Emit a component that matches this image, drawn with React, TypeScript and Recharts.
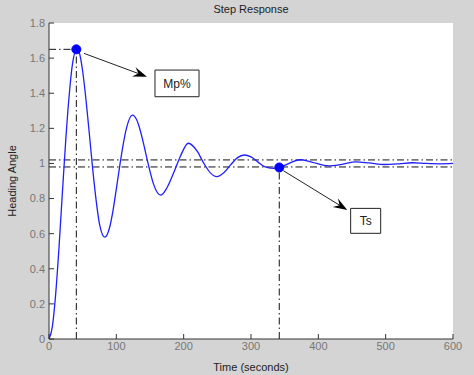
import React from 'react';
import {
  LineChart,
  Line,
  XAxis,
  YAxis,
  CartesianGrid,
  ReferenceLine,
  ReferenceDot,
  ReferenceArea
} from 'recharts';

// step response
const time = [0, 5, 10, 15, 20, 25, 30, 35, 41, 45, 50, 55, 60, 65, 70, 75, 83, 90, 95, 100, 105, 110, 115, 124, 130, 135, 140, 145, 150, 155, 166, 175, 185, 195, 207, 220, 230, 240, 249, 260, 270, 280, 290, 300, 310, 320, 333, 345, 355, 373, 390, 415, 435, 456, 475, 498, 520, 539, 560, 581, 600];
const heading = [0, 0.07, 0.26, 0.53, 0.84, 1.14, 1.39, 1.57, 1.65, 1.63, 1.525, 1.36, 1.165, 0.965, 0.79, 0.655, 0.58, 0.635, 0.73, 0.855, 0.985, 1.105, 1.2, 1.275, 1.25, 1.195, 1.12, 1.035, 0.955, 0.885, 0.82, 0.86, 0.945, 1.04, 1.115, 1.07, 1.0, 0.945, 0.925, 0.948, 0.993, 1.033, 1.048, 1.037, 1.009, 0.982, 0.972, 0.98, 0.998, 1.021, 1.008, 0.986, 0.995, 1.009, 1.003, 0.994, 0.998, 1.004, 1.0, 0.998, 1.0];

const xTicks = [0, 100, 200, 300, 400, 500, 600];
const yTicks = [0, 0.2, 0.4, 0.6, 0.8, 1, 1.2, 1.4, 1.6, 1.8];
const band = [1.02, 0.98];

const peak = { t: 40.6, y: 1.65 };
const settle = { t: 342, y: 0.977 };

const mpArrow = [{ x: 52, y: 1.627 }, { x: 145.5, y: 1.494 }];
const tsArrow = [{ x: 348, y: 0.959 }, { x: 443, y: 0.735 }];
const mpBox = { x1: 157.4, x2: 222.8, y1: 1.38, y2: 1.532, text: 'Mp%' };
const tsBox = { x1: 448, x2: 492.6, y1: 0.602, y2: 0.744, text: 'Ts' };

const data = time.map((t, i) => ({ t, y: heading[i] }));

const font = '"Liberation Sans", Arial, sans-serif';
const dashDot = '7 3 1.5 3';

const Arrow = (p: any) => {
  const { x1, y1, x2, y2 } = p;
  const a = Math.atan2(y2 - y1, x2 - x1);
  const len = 14;
  const w = 5;
  const bx = x2 - len * Math.cos(a);
  const by = y2 - len * Math.sin(a);
  const ix = x2 - len * 0.65 * Math.cos(a);
  const iy = y2 - len * 0.65 * Math.sin(a);
  const nx = -Math.sin(a) * w;
  const ny = Math.cos(a) * w;
  return (
    <g>
      <line x1={x1} y1={y1} x2={ix} y2={iy} stroke="#222" strokeWidth={1} />
      <polygon
        points={`${x2},${y2} ${bx + nx},${by + ny} ${ix},${iy} ${bx - nx},${by - ny}`}
        fill="#000"
      />
    </g>
  );
};

const tickStyle = { fontSize: 11, fill: '#777', fontFamily: font };

export default function App() {
  return (
    <div style={{ position: 'absolute', left: 0, top: 0, width: 474, height: 375, background: '#d4d4d4', fontFamily: font }}>
      <div style={{ position: 'absolute', left: 0, top: 3, width: 502, textAlign: 'center', fontSize: 11, color: '#222' }}>
        Step Response
      </div>
      <div
        style={{
          position: 'absolute',
          left: 12,
          top: 181,
          transform: 'translate(-50%, -50%) rotate(-90deg)',
          fontSize: 11,
          color: '#222',
          whiteSpace: 'nowrap'
        }}
      >
        Heading Angle
      </div>
      <LineChart width={474} height={375} data={data} margin={{ top: 23, right: 21, left: 0, bottom: 0 }}>
        <CartesianGrid fill="#fff" horizontal={false} vertical={false} />
        <XAxis
          dataKey="t"
          type="number"
          domain={[0, 600]}
          ticks={xTicks}
          allowDataOverflow
          height={36}
          tickSize={-5}
          tickMargin={8}
          stroke="#333"
          tick={tickStyle}
          label={{ value: 'Time (seconds)', position: 'insideBottom', offset: 4, fontSize: 11, fill: '#222', fontFamily: font }}
        />
        <XAxis
          xAxisId="top"
          orientation="top"
          dataKey="t"
          type="number"
          domain={[0, 600]}
          ticks={xTicks}
          allowDataOverflow
          height={0}
          tickSize={-5}
          tick={false}
          stroke="#333"
        />
        <YAxis
          type="number"
          domain={[0, 1.8]}
          ticks={yTicks}
          allowDataOverflow
          width={49}
          tickSize={-5}
          tickMargin={9}
          stroke="#333"
          tick={tickStyle}
        />
        <YAxis
          yAxisId="right"
          orientation="right"
          type="number"
          domain={[0, 1.8]}
          ticks={yTicks}
          allowDataOverflow
          width={0}
          tickSize={-5}
          tick={false}
          stroke="#333"
        />
        {band.map((b) => (
          <ReferenceLine key={b} y={b} stroke="#111" strokeDasharray={dashDot} />
        ))}
        <ReferenceLine segment={[{ x: 0, y: peak.y }, { x: peak.t, y: peak.y }]} stroke="#111" strokeDasharray={dashDot} />
        <ReferenceLine segment={[{ x: peak.t, y: 0 }, { x: peak.t, y: peak.y }]} stroke="#111" strokeDasharray={dashDot} />
        <ReferenceLine segment={[{ x: settle.t, y: 0 }, { x: settle.t, y: settle.y }]} stroke="#111" strokeDasharray={dashDot} />
        <Line
          dataKey="y"
          type="monotone"
          stroke="#1f1fff"
          strokeWidth={1.3}
          dot={false}
          isAnimationActive={false}
        />
        <ReferenceDot x={peak.t} y={peak.y} r={4.5} fill="#0000ff" stroke="#0000ff" />
        <ReferenceDot x={settle.t} y={settle.y} r={4.5} fill="#0000ff" stroke="#0000ff" />
        <ReferenceLine segment={mpArrow} shape={Arrow} />
        <ReferenceLine segment={tsArrow} shape={Arrow} />
        {[mpBox, tsBox].map((b) => (
          <ReferenceArea
            key={b.text}
            x1={b.x1}
            x2={b.x2}
            y1={b.y1}
            y2={b.y2}
            fill="#fff"
            fillOpacity={1}
            stroke="#222"
            label={{ value: b.text, position: 'center', fontSize: 12, fill: '#222', fontFamily: font }}
          />
        ))}
      </LineChart>
    </div>
  );
}
